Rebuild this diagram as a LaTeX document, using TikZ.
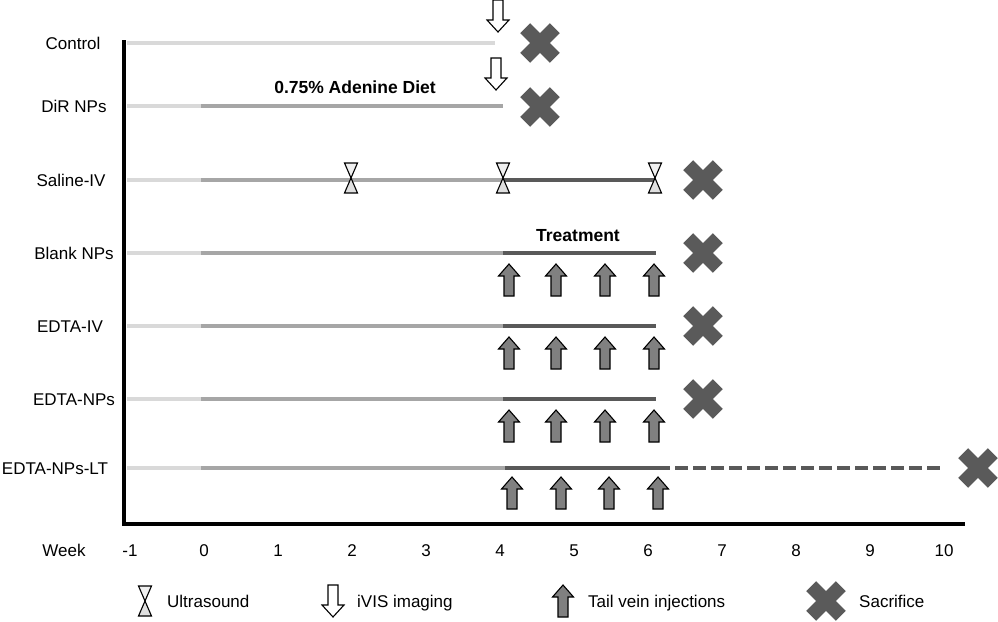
\documentclass[tikz,border=0pt]{standalone}
\usepackage{fontspec}
\setmainfont{Liberation Sans}
\definecolor{lgrey}{HTML}{D9D9D9}
\definecolor{mgrey}{HTML}{A6A6A6}
\definecolor{dgrey}{HTML}{595959}
\definecolor{xgrey}{HTML}{5A5A5A}
\definecolor{agrey}{HTML}{808080}
\begin{document}
\begin{tikzpicture}[x=1pt,y=-1pt,
  lbl/.style={font=\fontsize{17}{20}\selectfont, inner sep=0pt, text height=12.5pt, text depth=0pt},
  blbl/.style={font=\fontsize{17.5}{20}\selectfont\bfseries, inner sep=0pt, text height=12.5pt, text depth=0pt},
  seg/.style={line width=4pt},
  lightseg/.style={seg, lgrey},
  medseg/.style={seg, mgrey},
  darkseg/.style={seg, dgrey},
  axis/.style={line width=4pt, black},
  sacrifice/.pic={
    \fill[xgrey, rotate=45] (-21,-7) rectangle (21,7);
    \fill[xgrey, rotate=-45] (-21,-7) rectangle (21,7);
  },
  ivis/.pic={
    \draw[black, fill=white, line width=1.1pt, line join=miter]
      (-5,-16) -- (5,-16) -- (5,4) -- (11,4) -- (0,16) -- (-11,4) -- (-5,4) -- cycle;
  },
  tailvein/.pic={
    \draw[black, fill=agrey, line width=1.1pt, line join=miter]
      (-5,16) -- (5,16) -- (5,-4) -- (10.5,-4) -- (0,-16) -- (-10.5,-4) -- (-5,-4) -- cycle;
  },
  ultra/.pic={
    \draw[black, fill=gray!12, line width=1.1pt] (-6.5,-15) -- (6.5,-15) -- (0,0) -- cycle;
    \draw[black, fill=gray!25, line width=1.1pt] (0,0) -- (6.5,15) -- (-6.5,15) -- cycle;
  }
]
\path[use as bounding box] (0,0) rectangle (998,621);

% axes
\coordinate (axtop) at (124,42);
\coordinate (axorig) at (124,524);
\coordinate (axend) at (963,524);
\draw[axis, line cap=rect] (axtop) -- (axorig) -- (axend);

% row labels
\node[lbl] (lcontrol) at (73,43) {Control};
\node[lbl] (ldir) at (74,106) {DiR NPs};
\node[lbl] (lsaline) at (71,180) {Saline-IV};
\node[lbl] (lblank) at (74,253) {Blank NPs};
\node[lbl] (ledtaiv) at (70,326) {EDTA-IV};
\node[lbl] (ledtanps) at (74,399) {EDTA-NPs};
\node[lbl] (ledtalt) at (55,468) {EDTA-NPs-LT};

% Control
\draw[lightseg] (127,43) -- (495,43);
\pic at (498,16) {ivis};
\pic at (540,43) {sacrifice};

% DiR NPs
\draw[lightseg] (127,106) -- (201,106);
\draw[medseg] (201,106) -- (503,106);
\node[blbl] (diet) at (355,87) {0.75\% Adenine Diet};
\pic at (496,74) {ivis};
\pic at (540,107) {sacrifice};

% Saline-IV
\draw[lightseg] (127,180) -- (201,180);
\draw[medseg] (201,180) -- (503,180);
\draw[darkseg] (503,180) -- (655,180);
\pic at (351,178) {ultra};
\pic at (503,178) {ultra};
\pic at (655,178) {ultra};
\pic at (703,180) {sacrifice};

% Blank NPs, EDTA-IV, EDTA-NPs
\foreach \yy in {253,326,399}{
  \draw[lightseg] (127,\yy) -- (201,\yy);
  \draw[medseg] (201,\yy) -- (503,\yy);
  \draw[darkseg] (503,\yy) -- (656,\yy);
  \foreach \xx in {509,556,605,654}{
    \pic at (\xx,\yy+27) {tailvein};
  }
  \pic at (703,\yy) {sacrifice};
}
\node[blbl] (treat) at (578,235) {Treatment};

% EDTA-NPs-LT
\draw[lightseg] (127,468) -- (201,468);
\draw[medseg] (201,468) -- (505,468);
\draw[darkseg] (505,468) -- (670,468);
\draw[darkseg, dash pattern=on 13pt off 5pt] (675,468) -- (940,468);
\foreach \xx in {512,561,609,658}{
  \pic at (\xx,493) {tailvein};
}
\pic at (978,468) {sacrifice};

% week axis labels
\node[lbl] (week) at (64,550) {Week};
\foreach \w in {-1,0,...,10}{
  \node[lbl] (w\w) at ({204+74*\w},550) {\w};
}

% legend
\pic at (145,601) {ultra};
\node[lbl, anchor=west] (legus) at (167,601) {Ultrasound};
\pic at (333,601) {ivis};
\node[lbl, anchor=west] (legivis) at (357,601) {iVIS imaging};
\pic at (563,601) {tailvein};
\node[lbl, anchor=west] (legtail) at (588,601) {Tail vein injections};
\pic at (826,601) {sacrifice};
\node[lbl, anchor=west] (legsac) at (859,601) {Sacrifice};
\end{tikzpicture}
\end{document}
